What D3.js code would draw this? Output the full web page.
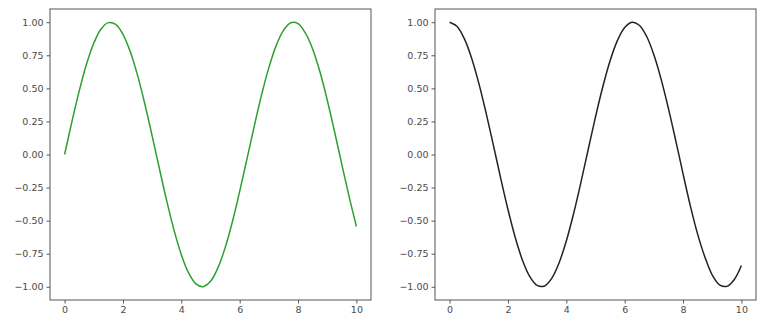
<!DOCTYPE html>
<html>
<head>
<meta charset="utf-8">
<script src="https://cdn.jsdelivr.net/npm/d3@7"></script>
<style>
  body { margin: 0; background: #fff; }
  .axis text { font-family: "DejaVu Sans", sans-serif; font-size: 9.5px; fill: #4a4a4a; }
  .axis line, .axis path { stroke: #555; }
</style>
</head>
<body>
<div id="graf"></div>
<script>
// valores
const xValores = [0, 0.25, 0.5, 0.75, 1, 1.25, 1.5, 1.75, 2, 2.25, 2.5, 2.75, 3, 3.25, 3.5, 3.75,
  4, 4.25, 4.5, 4.75, 5, 5.25, 5.5, 5.75, 6, 6.25, 6.5, 6.75, 7, 7.25, 7.5, 7.75,
  8, 8.25, 8.5, 8.75, 9, 9.25, 9.5, 9.75, 10]
const serieIzq = [0.000, 0.247, 0.479, 0.682, 0.841, 0.949, 0.997, 0.984, 0.909, 0.778, 0.598,
  0.382, 0.141, -0.108, -0.351, -0.572, -0.757, -0.895, -0.978, -0.999, -0.959, -0.859,
  -0.706, -0.508, -0.279, -0.033, 0.215, 0.451, 0.657, 0.823, 0.938, 0.996, 0.989, 0.919,
  0.798, 0.625, 0.412, 0.174, -0.075, -0.319, -0.544]
const serieDer = [1.000, 0.969, 0.878, 0.732, 0.540, 0.315, 0.071, -0.178, -0.416, -0.628, -0.801,
  -0.924, -0.990, -0.994, -0.936, -0.820, -0.654, -0.446, -0.211, 0.038, 0.284, 0.512,
  0.709, 0.861, 0.960, 1.000, 0.977, 0.894, 0.754, 0.568, 0.347, 0.105, -0.146, -0.388,
  -0.602, -0.776, -0.911, -0.985, -0.997, -0.947, -0.839]
const xTicks = [0, 2, 4, 6, 8, 10]
const yTicks = [-1, -0.75, -0.5, -0.25, 0, 0.25, 0.5, 0.75, 1]

const anchoTotal = 768
const altoTotal = 324

const svg = d3.select("#graf")
  .append("svg")
  .attr("width", anchoTotal)
  .attr("height", altoTotal)

// paneles: izquierda verde, derecha negro
const paneles = [
  { serie: serieIzq, color: "#2ca02c", left: 50, right: 371 },
  { serie: serieDer, color: "#222", left: 435, right: 756 },
]
const margenSup = 9
const margenInf = 300

const fmt = (d) => d3.format(".2f")(d).replace("-", "\u2212")

paneles.forEach((p) => {
  const x = d3.scaleLinear().domain([-0.5, 10.5]).range([p.left, p.right])
  const y = d3.scaleLinear().domain([-1.1, 1.1]).range([margenInf, margenSup])

  const datos = xValores.map((v, i) => ({ x: v, y: p.serie[i] }))

  const linea = d3.line()
    .x((d) => x(d.x))
    .y((d) => y(d.y))
    .curve(d3.curveCatmullRom)

  svg.append("path")
    .datum(datos)
    .attr("d", linea)
    .attr("fill", "none")
    .attr("stroke", p.color)
    .attr("stroke-width", 1.5)

  // ejes
  svg.append("g")
    .attr("class", "axis")
    .attr("transform", `translate(0, ${margenInf})`)
    .call(d3.axisBottom(x).tickValues(xTicks).tickSize(3.5).tickPadding(3).tickSizeOuter(0))
    .call((g) => g.select(".domain").remove())

  svg.append("g")
    .attr("class", "axis")
    .attr("transform", `translate(${p.left}, 0)`)
    .call(d3.axisLeft(y).tickValues(yTicks).tickFormat(fmt).tickSize(3.5).tickPadding(3).tickSizeOuter(0))
    .call((g) => g.select(".domain").remove())

  // marco
  svg.append("rect")
    .attr("x", p.left)
    .attr("y", margenSup)
    .attr("width", p.right - p.left)
    .attr("height", margenInf - margenSup)
    .attr("fill", "none")
    .attr("stroke", "#555")
    .attr("stroke-width", 1)
})
</script>
</body>
</html>
